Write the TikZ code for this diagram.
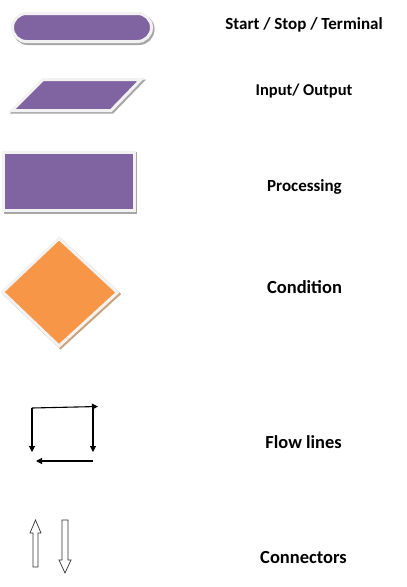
\documentclass[tikz,border=0pt]{standalone}
\usepackage{fontspec}
\setmainfont{Carlito}
\usetikzlibrary{arrows.meta}
\definecolor{purp}{HTML}{8064A2}
\definecolor{oran}{HTML}{F79646}
\definecolor{rim}{HTML}{F2F2F2}
\definecolor{shad}{HTML}{A6A6A6}
\definecolor{shadb}{HTML}{C9A27E}
\tikzset{
  shapebox/.style={fill=purp, draw=rim, line width=3pt, line join=miter},
  shadowbox/.style={fill=shad, draw=shad, line width=3pt},
  label/.style={anchor=center, inner sep=0pt},
  flow/.style={line width=1.1pt, -{Triangle[length=6pt,width=6pt]}},
  blockarrow/.style={draw=black!80, line width=0.7pt, fill=white, line join=miter}
}
\begin{document}
\begin{tikzpicture}[x=1pt,y=-1pt]
\useasboundingbox (0,0) rectangle (407,587);
% Terminal
\draw[shadowbox, rounded corners=14pt] (14,15) rectangle (153,43.5);
\draw[shapebox, rounded corners=14pt] (12.5,13.5) rectangle (151.5,41.5);
% Input/Output
\draw[shadowbox] (44.5,81) -- (142.5,81) -- (112.5,112) -- (13.5,112) -- cycle;
\draw[shapebox] (43,79.5) -- (141,79.5) -- (111,110.5) -- (12,110.5) -- cycle;
% Processing
\draw[shadowbox] (5,153.5) rectangle (135.5,212);
\draw[shapebox] (3.5,152) rectangle (134,210.5);
% Condition
\draw[fill=shadb, draw=shadb, line width=3pt] (60.5,240) -- (119,294) -- (60.5,347.5) -- (4,293.5) -- cycle;
\draw[fill=oran, draw=rim, line width=3pt, line join=miter] (59,238.5) -- (117.5,292.5) -- (59,346) -- (2.5,292) -- cycle;
% Flow lines
\coordinate (f1) at (32,408);
\coordinate (f2) at (98,406.5);
\coordinate (f3) at (32,452);
\coordinate (f4) at (93,408);
\coordinate (f5) at (93,452);
\coordinate (f6) at (93,461);
\coordinate (f7) at (36,461);
\draw[flow] (f1) -- (f2);
\draw[flow] (f1) -- (f3);
\draw[flow] (f4) -- (f5);
\draw[flow] (f6) -- (f7);
% Connectors
\draw[blockarrow] (33,567) -- (33,533) -- (30,533) -- (35.5,520) -- (41,533) -- (38,533) -- (38,567) -- cycle;
\draw[blockarrow] (62,520) -- (62,560) -- (59,560) -- (65,573) -- (71,560) -- (68,560) -- (68,520) -- cycle;
% Labels
\node[label, font=\bfseries\fontsize{17}{19}\selectfont] (t1) at (304,25) {Start / Stop / Terminal};
\node[label, font=\bfseries\fontsize{16.5}{19}\selectfont] (t2) at (304,91) {Input/ Output};
\node[label, font=\bfseries\fontsize{17}{19}\selectfont] (t3) at (304.5,187) {Processing};
\node[label, font=\bfseries\fontsize{18.5}{21}\selectfont] (t4) at (304.5,287) {Condition};
\node[label, font=\bfseries\fontsize{18.4}{21}\selectfont] (t5) at (303.5,442) {Flow lines};
\node[label, font=\bfseries\fontsize{18.5}{21}\selectfont] (t6) at (303.5,557) {Connectors};
\end{tikzpicture}
\end{document}
